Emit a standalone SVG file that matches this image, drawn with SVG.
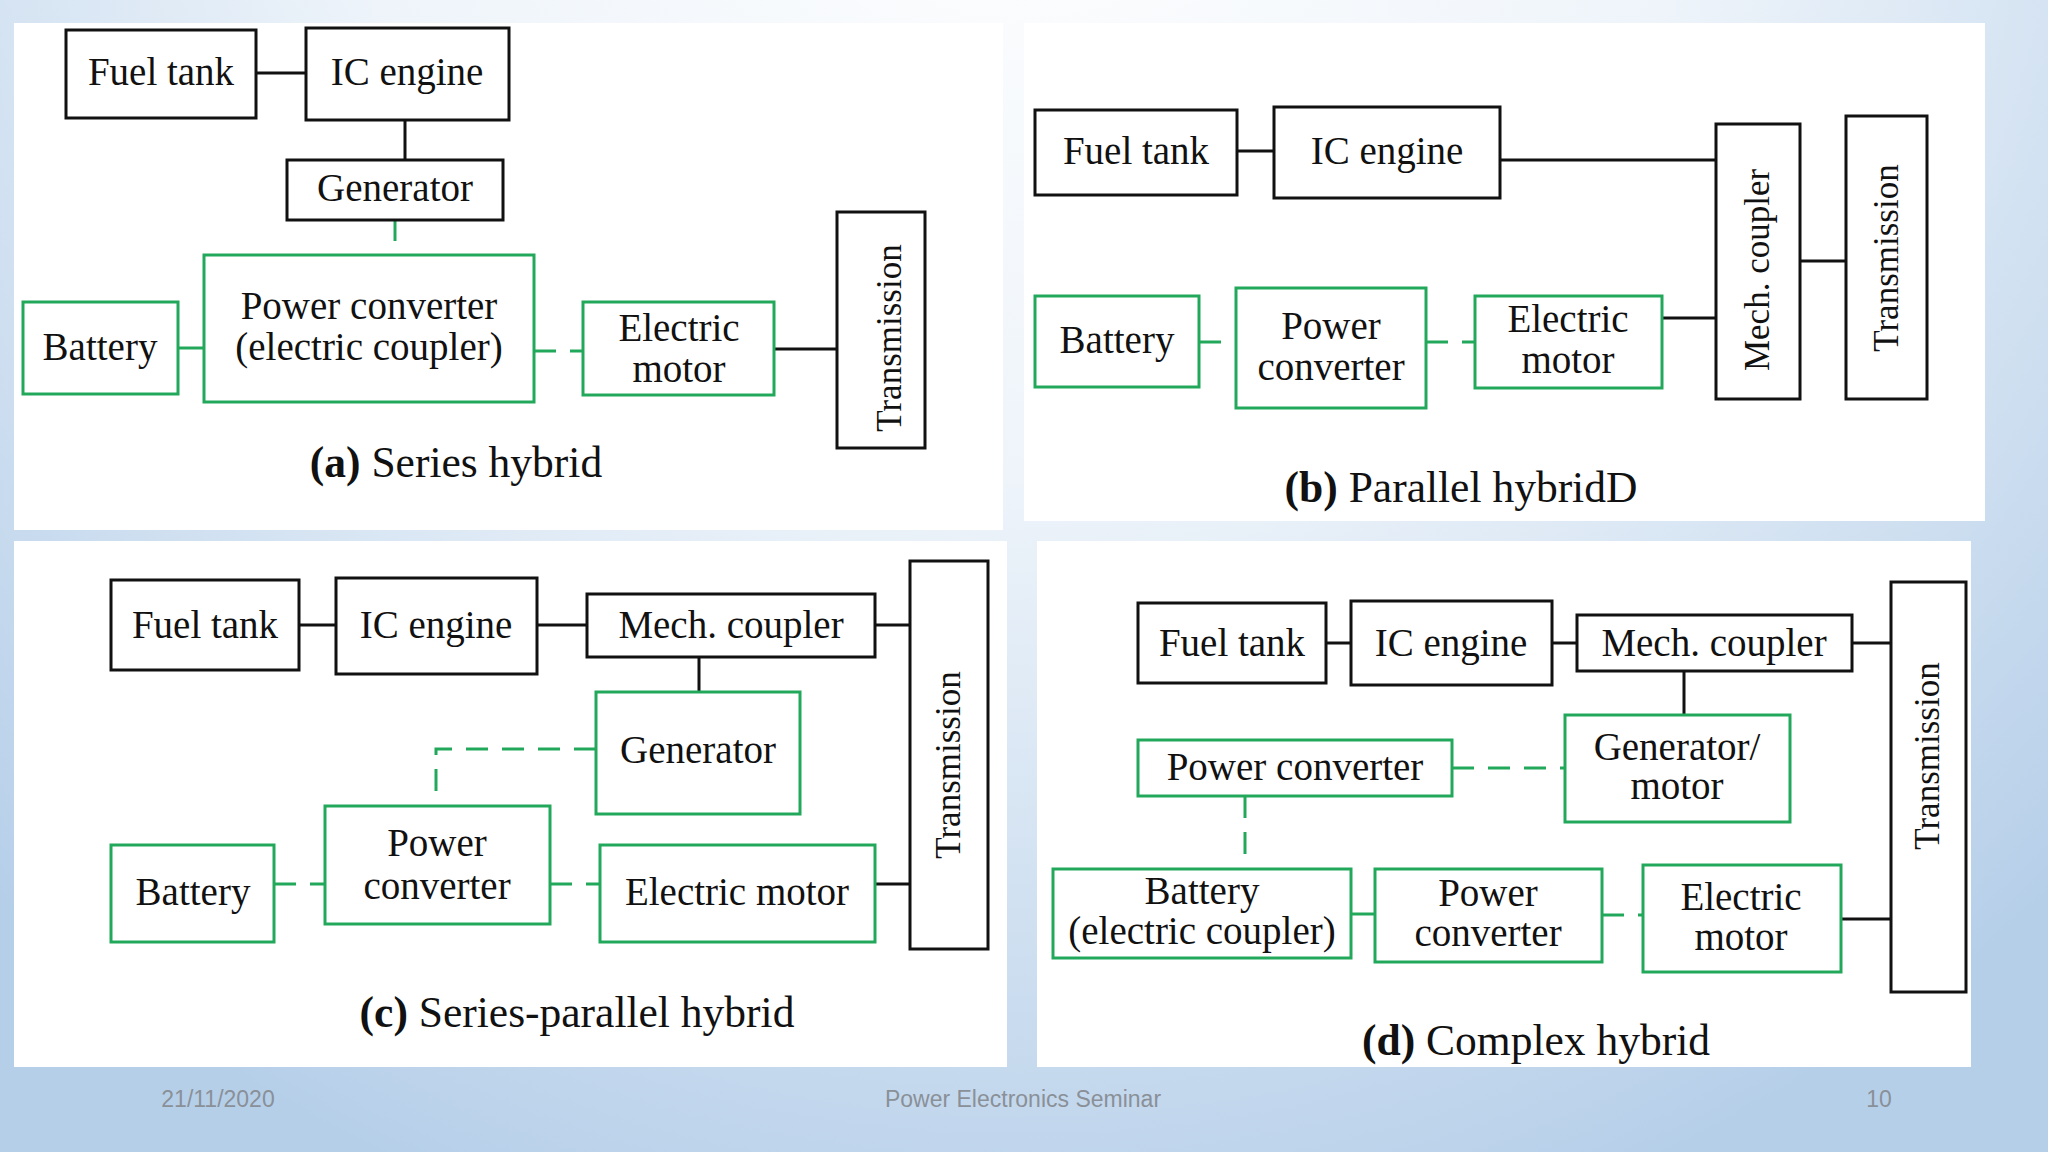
<svg xmlns="http://www.w3.org/2000/svg" width="2048" height="1152" viewBox="0 0 2048 1152">
<defs>
<radialGradient id="bg" cx="1024" cy="-200" r="1500" gradientUnits="userSpaceOnUse">
<stop offset="0" stop-color="#ffffff"/>
<stop offset="0.45" stop-color="#eef4fa"/>
<stop offset="1" stop-color="#b6cfe9"/>
</radialGradient>
<style>
.bx{fill:#ffffff;stroke:#111111;stroke-width:3}
.gx{fill:#ffffff;stroke:#22a85a;stroke-width:3}
.bl{stroke:#111111;stroke-width:3;fill:none}
.gl{stroke:#22a85a;stroke-width:3;fill:none}
.gd{stroke:#22a85a;stroke-width:3;fill:none;stroke-dasharray:22 14}
.t{font-family:"Liberation Serif","Times New Roman",serif;font-size:39px;fill:#111111;text-anchor:middle}
.r{font-family:"Liberation Serif","Times New Roman",serif;font-size:35px;fill:#111111;text-anchor:middle}
.cap{font-family:"Liberation Serif","Times New Roman",serif;font-size:43.5px;fill:#111111;text-anchor:middle}
.ft{font-family:"Liberation Sans",Arial,sans-serif;font-size:23px;fill:#8a9098;text-anchor:middle}
.pn{fill:#ffffff}
</style>
</defs>
<rect x="0" y="0" width="2048" height="1152" fill="url(#bg)"/>
<g id="panels">
<rect class="pn" x="14" y="23" width="989" height="507"/>
<rect class="pn" x="1024" y="23" width="961" height="498"/>
<rect class="pn" x="14" y="541" width="993" height="526"/>
<rect class="pn" x="1037" y="541" width="934" height="526"/>
</g>
<g id="connectors">
<line class="bl" x1="256" y1="73" x2="306" y2="73"/>
<line class="bl" x1="405" y1="120" x2="405" y2="160"/>
<line class="gl" x1="395" y1="220" x2="395" y2="241"/>
<line class="gl" x1="178" y1="348" x2="204" y2="348"/>
<line class="gd" x1="534" y1="351" x2="584" y2="351"/>
<line class="bl" x1="774" y1="349" x2="837" y2="349"/>
<line class="bl" x1="1237" y1="151" x2="1274" y2="151"/>
<line class="bl" x1="1500" y1="160" x2="1716" y2="160"/>
<line class="bl" x1="1800" y1="261" x2="1846" y2="261"/>
<line class="gd" x1="1199" y1="342" x2="1236" y2="342"/>
<line class="gd" x1="1426" y1="342" x2="1475" y2="342"/>
<line class="bl" x1="1662" y1="318" x2="1716" y2="318"/>
<line class="bl" x1="299" y1="625" x2="336" y2="625"/>
<line class="bl" x1="537" y1="625" x2="587" y2="625"/>
<line class="bl" x1="875" y1="625" x2="910" y2="625"/>
<line class="bl" x1="699" y1="657" x2="699" y2="692"/>
<polyline class="gd" points="596,749 436,749 436,806"/>
<line class="gd" x1="274" y1="884" x2="325" y2="884"/>
<line class="gd" x1="550" y1="884" x2="600" y2="884"/>
<line class="bl" x1="875" y1="884" x2="910" y2="884"/>
<line class="bl" x1="1326" y1="643" x2="1351" y2="643"/>
<line class="bl" x1="1552" y1="643" x2="1577" y2="643"/>
<line class="bl" x1="1852" y1="643" x2="1891" y2="643"/>
<line class="bl" x1="1684" y1="671" x2="1684" y2="715"/>
<line class="gd" x1="1452" y1="768" x2="1565" y2="768"/>
<line class="gd" x1="1245" y1="796" x2="1245" y2="869"/>
<line class="gl" x1="1351" y1="914" x2="1375" y2="914"/>
<line class="gd" x1="1602" y1="915" x2="1643" y2="915"/>
<line class="bl" x1="1841" y1="919" x2="1891" y2="919"/>
</g>
<g id="a-fueltank"><rect class="bx" x="66" y="30" width="190" height="88"/><text class="t" x="161" y="85">Fuel tank</text></g>
<g id="a-icengine"><rect class="bx" x="306" y="28" width="203" height="92"/><text class="t" x="407" y="85">IC engine</text></g>
<g id="a-generator"><rect class="bx" x="287" y="160" width="216" height="60"/><text class="t" x="395" y="201">Generator</text></g>
<g id="a-powerconv"><rect class="gx" x="204" y="255" width="330" height="147"/><text class="t" x="369" y="319">Power converter</text><text class="t" x="369" y="360">(electric coupler)</text></g>
<g id="a-battery"><rect class="gx" x="23" y="302" width="155" height="92"/><text class="t" x="100" y="360">Battery</text></g>
<g id="a-motor"><rect class="gx" x="583" y="302" width="191" height="93"/><text class="t" x="679" y="341">Electric</text><text class="t" x="679" y="382">motor</text></g>
<g id="a-transmission"><rect class="bx" x="837" y="212" width="88" height="236"/><text class="r" transform="translate(901,338) rotate(-90)">Transmission</text></g>
<text class="cap" x="456" y="477"><tspan font-weight="bold">(a)</tspan> Series hybrid</text>
<g id="b-fueltank"><rect class="bx" x="1035" y="110" width="202" height="85"/><text class="t" x="1136" y="164">Fuel tank</text></g>
<g id="b-icengine"><rect class="bx" x="1274" y="107" width="226" height="91"/><text class="t" x="1387" y="164">IC engine</text></g>
<g id="b-mech"><rect class="bx" x="1716" y="124" width="84" height="275"/><text class="r" transform="translate(1769,270) rotate(-90)">Mech. coupler</text></g>
<g id="b-transmission"><rect class="bx" x="1846" y="116" width="81" height="283"/><text class="r" transform="translate(1898,258) rotate(-90)">Transmission</text></g>
<g id="b-battery"><rect class="gx" x="1035" y="296" width="164" height="91"/><text class="t" x="1117" y="353">Battery</text></g>
<g id="b-powerconv"><rect class="gx" x="1236" y="288" width="190" height="120"/><text class="t" x="1331" y="339">Power</text><text class="t" x="1331" y="380">converter</text></g>
<g id="b-motor"><rect class="gx" x="1475" y="296" width="187" height="92"/><text class="t" x="1568" y="332">Electric</text><text class="t" x="1568" y="373">motor</text></g>
<text class="cap" x="1461" y="502"><tspan font-weight="bold">(b)</tspan> Parallel hybridD</text>
<g id="c-fueltank"><rect class="bx" x="111" y="580" width="188" height="90"/><text class="t" x="205" y="638">Fuel tank</text></g>
<g id="c-icengine"><rect class="bx" x="336" y="578" width="201" height="96"/><text class="t" x="436" y="638">IC engine</text></g>
<g id="c-mech"><rect class="bx" x="587" y="594" width="288" height="63"/><text class="t" x="731" y="638">Mech. coupler</text></g>
<g id="c-transmission"><rect class="bx" x="910" y="561" width="78" height="388"/><text class="r" transform="translate(960,765) rotate(-90)">Transmission</text></g>
<g id="c-generator"><rect class="gx" x="596" y="692" width="204" height="122"/><text class="t" x="698" y="763">Generator</text></g>
<g id="c-powerconv"><rect class="gx" x="325" y="806" width="225" height="118"/><text class="t" x="437" y="856">Power</text><text class="t" x="437" y="899">converter</text></g>
<g id="c-battery"><rect class="gx" x="111" y="845" width="163" height="97"/><text class="t" x="193" y="905">Battery</text></g>
<g id="c-motor"><rect class="gx" x="600" y="845" width="275" height="97"/><text class="t" x="737" y="905">Electric motor</text></g>
<text class="cap" x="577" y="1027"><tspan font-weight="bold">(c)</tspan> Series-parallel hybrid</text>
<g id="d-fueltank"><rect class="bx" x="1138" y="603" width="188" height="80"/><text class="t" x="1232" y="656">Fuel tank</text></g>
<g id="d-icengine"><rect class="bx" x="1351" y="601" width="201" height="84"/><text class="t" x="1451" y="656">IC engine</text></g>
<g id="d-mech"><rect class="bx" x="1577" y="615" width="275" height="56"/><text class="t" x="1714" y="656">Mech. coupler</text></g>
<g id="d-transmission"><rect class="bx" x="1891" y="582" width="75" height="410"/><text class="r" transform="translate(1939,756) rotate(-90)">Transmission</text></g>
<g id="d-genmotor"><rect class="gx" x="1565" y="715" width="225" height="107"/><text class="t" x="1677" y="760">Generator/</text><text class="t" x="1677" y="799">motor</text></g>
<g id="d-powerconv1"><rect class="gx" x="1138" y="740" width="314" height="56"/><text class="t" x="1295" y="780">Power converter</text></g>
<g id="d-battery"><rect class="gx" x="1053" y="869" width="298" height="89"/><text class="t" x="1202" y="904">Battery</text><text class="t" x="1202" y="944">(electric coupler)</text></g>
<g id="d-powerconv2"><rect class="gx" x="1375" y="869" width="227" height="93"/><text class="t" x="1488" y="906">Power</text><text class="t" x="1488" y="946">converter</text></g>
<g id="d-motor"><rect class="gx" x="1643" y="865" width="198" height="107"/><text class="t" x="1741" y="910">Electric</text><text class="t" x="1741" y="950">motor</text></g>
<text class="cap" x="1536" y="1055"><tspan font-weight="bold">(d)</tspan> Complex hybrid</text>
<text class="ft" x="218" y="1107">21/11/2020</text>
<text class="ft" x="1023" y="1107">Power Electronics Seminar</text>
<text class="ft" x="1879" y="1107">10</text>
</svg>
